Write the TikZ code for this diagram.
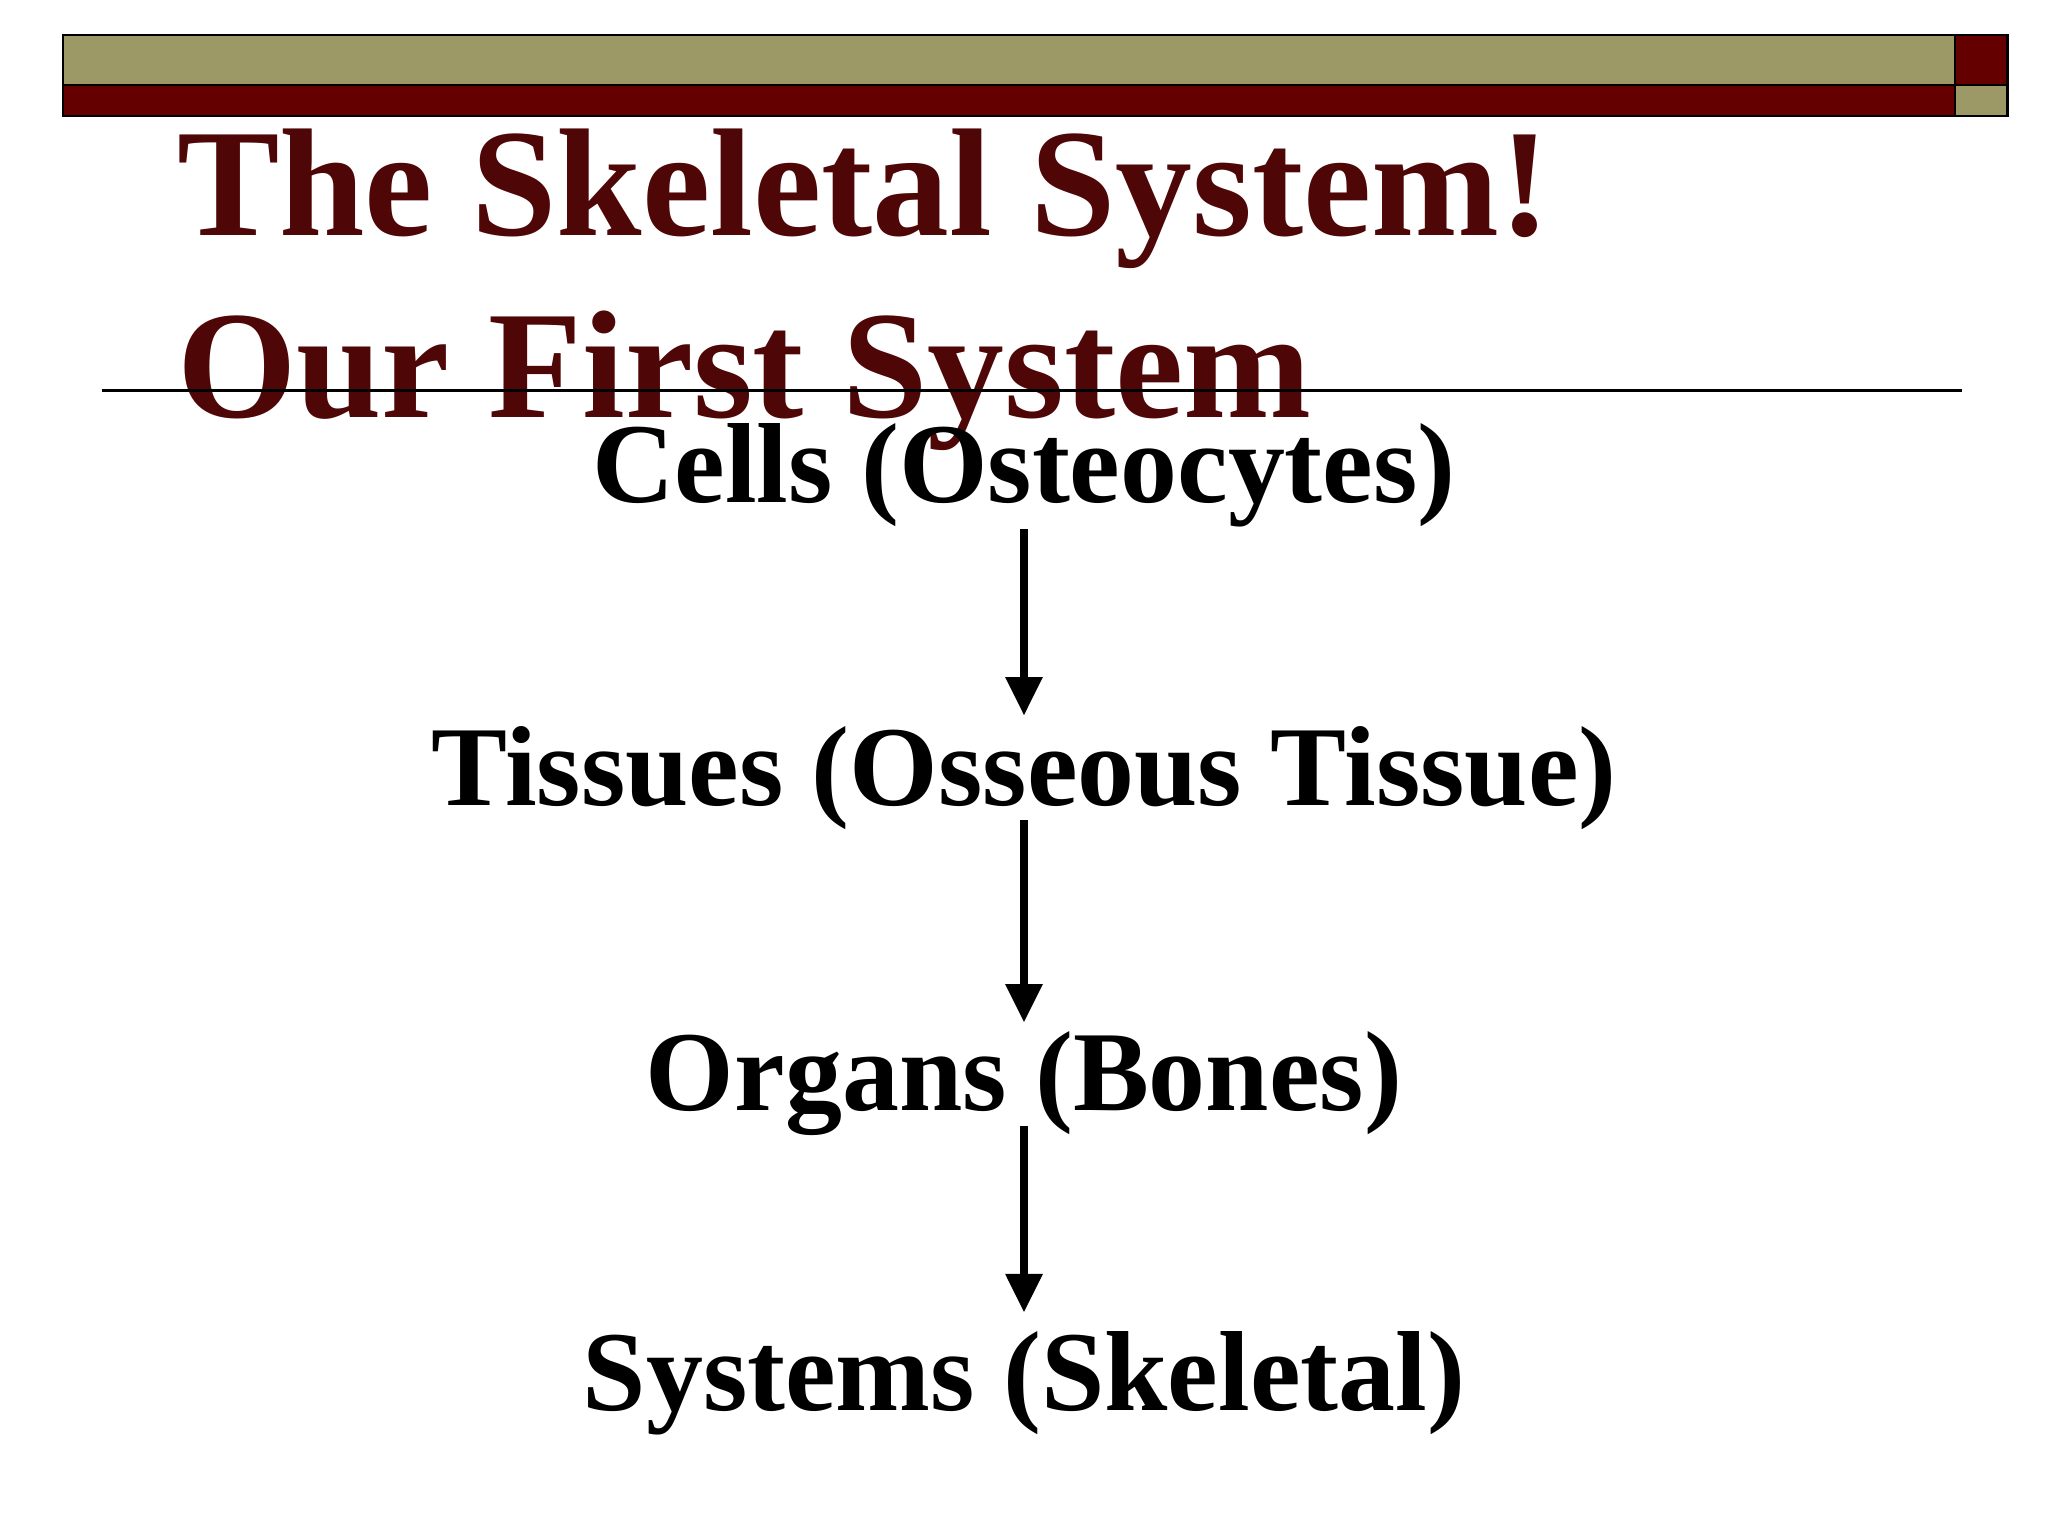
\documentclass[tikz,border=0pt]{standalone}
\usepackage{fontspec}
\setmainfont{Liberation Serif}
\usetikzlibrary{arrows.meta}
\definecolor{barolive}{HTML}{9C9966}
\definecolor{barred}{HTML}{650000}
\definecolor{titlered}{HTML}{4E0606}
\tikzset{
  bar/.style={draw=black, line width=0.6pt},
  titletext/.style={anchor=base west, inner sep=0pt, text=titlered,
    font=\fontsize{43.7}{46}\selectfont\bfseries},
  level/.style={anchor=base, inner sep=0pt,
    font=\fontsize{32.4}{35}\selectfont\bfseries},
  step arrow/.style={line width=2.4pt, -{Triangle[width=10pt,length=11pt]}}
}
\begin{document}
\begin{tikzpicture}[x=0.01306cm, y=-0.01306cm]
    \useasboundingbox (0,0) rectangle (1568,1176);
    % top bars
    \fill [bar, fill=barolive] (48,27) rectangle (1497,65);
    \fill [bar, fill=barred] (48,65) rectangle (1497,89);
    \fill [bar, fill=barred] (1497,27) rectangle (1537,65);
    \fill [bar, fill=barolive] (1497,65) rectangle (1537,89);
    % title
    \node [titletext] (title1) at (135,180) {The Skeletal System!};
    \node [titletext] (title2) at (135,320) {Our First System};
    \draw [line width=0.8pt] (78,299) -- (1502,299);
    % levels
    \node [level] (cells) at (784,385) {Cells (Osteocytes)};
    \node [level] (tissues) at (784,617) {Tissues (Osseous Tissue)};
    \node [level] (organs) at (784,850) {Organs (Bones)};
    \node [level] (systems) at (784,1080) {Systems (Skeletal)};
    \draw [step arrow] ([yshift=-20*0.01306cm]cells.base) -- ([yshift=69*0.01306cm]tissues.base);
    \draw [step arrow] ([yshift=-11*0.01306cm]tissues.base) -- ([yshift=67*0.01306cm]organs.base);
    \draw [step arrow] ([yshift=-12*0.01306cm]organs.base) -- ([yshift=75*0.01306cm]systems.base);
\end{tikzpicture}
\end{document}
